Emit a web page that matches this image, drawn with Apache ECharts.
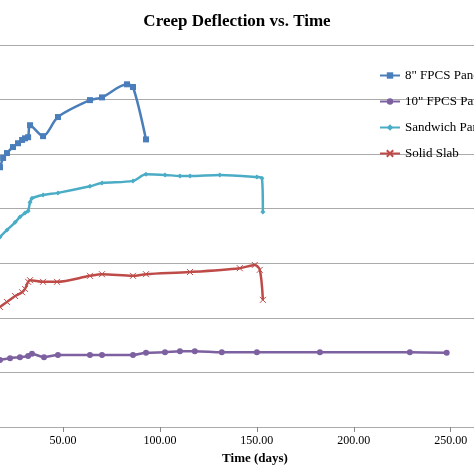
<!DOCTYPE html><html><head><meta charset="utf-8">
<script src="https://cdn.jsdelivr.net/npm/echarts@6/dist/echarts.min.js"></script>
<style>html,body{margin:0;padding:0;background:#fff}#c{width:474px;height:474px}</style></head><body><div id="c"></div>
<script>
const names = ['8" FPCS Panel','10" FPCS Panel','Sandwich Panel','Solid Slab'];
const xTicks = [50,100,150,200,250];
const p8Days = [14,17.5,19.1,21.1,24.2,26.8,28.9,30.4,32,33,39.7,47.4,63.9,70.1,83,86.1,92.8];
const p8Vals = [4.5,4.76,4.93,5.02,5.13,5.2,5.26,5.29,5.31,5.53,5.33,5.68,5.99,6.04,6.28,6.23,5.27];
const p10Days = [14,17.5,22.7,27.8,32,34,40.2,47.4,63.9,70.1,86.1,92.8,102.6,110.3,118,131.9,150,182.5,228.9,247.9];
const p10Vals = [1.22,1.23,1.26,1.28,1.3,1.34,1.28,1.32,1.32,1.32,1.32,1.36,1.37,1.39,1.39,1.37,1.37,1.37,1.37,1.36];
const swDays = [14,17.5,21.1,25.3,27.8,30.4,32,33,34,39.7,47.4,63.9,70.1,86.1,92.8,102.6,110.3,115.5,130.9,150,152.6,153.1];
const swVals = [3.3,3.48,3.61,3.75,3.85,3.92,3.96,4.12,4.19,4.25,4.29,4.41,4.47,4.51,4.63,4.62,4.6,4.6,4.62,4.58,4.56,3.94];
const ssDays = [14,17.5,21.1,25.3,28.9,30.4,32,33,39.7,46.9,63.9,70.1,86.1,92.8,115.5,141.2,148.9,151.5,153.1];
const ssVals = [2.1,2.2,2.29,2.4,2.47,2.53,2.66,2.69,2.66,2.66,2.77,2.8,2.77,2.8,2.84,2.91,2.97,2.88,2.33];
const colors = ['#4a7ebb','#7d60a0','#4bacc6','#be4b48'];
const symbols = ['rect','circle','diamond','path://M0,0L10,10M10,0L0,10'];
function mk(i,d,v){return {name:names[i],type:'line',smooth:0.3,data:d.map((x,k)=>[x,v[k]]),
 symbol:symbols[i],symbolSize:i==3?6:(i==2?5:6),color:colors[i],lineStyle:{width:2.5,color:colors[i]},
 itemStyle:{color:colors[i],borderColor:colors[i],borderWidth:i==3?1:0},clip:true};}
const ch = echarts.init(document.getElementById('c'));
ch.setOption({animation:false,
 title:{text:'Creep Deflection vs. Time',left:'center',top:8,textStyle:{fontFamily:'Liberation Serif',fontSize:17,fontWeight:'bold',color:'#000'}},
 legend:{orient:'vertical',left:374,top:64,itemGap:13,itemWidth:20,itemHeight:8,
  textStyle:{fontFamily:'Liberation Serif',fontSize:13,color:'#000'},data:names},
 grid:{left:0,right:0,top:45,bottom:47},
 xAxis:{type:'value',min:17.5,max:262,name:'Time (days)',nameLocation:'middle',nameGap:25,
  nameTextStyle:{fontFamily:'Liberation Serif',fontWeight:'bold',fontSize:13,color:'#000',padding:[0,0,0,36]},
  axisLine:{show:false},axisTick:{show:true,customValues:xTicks,lineStyle:{color:'#888'}},splitLine:{show:false},
  axisLabel:{customValues:xTicks,fontFamily:'Liberation Serif',fontSize:12,color:'#000',formatter:v=>v.toFixed(2)}},
 yAxis:{type:'value',min:0,max:7,interval:1,axisLabel:{show:false},axisLine:{show:false},axisTick:{show:false},
  splitLine:{lineStyle:{color:'#aaa',width:1.2}}},
 series:[mk(0,p8Days,p8Vals),mk(1,p10Days,p10Vals),mk(2,swDays,swVals),mk(3,ssDays,ssVals)]
});
</script></body></html>
